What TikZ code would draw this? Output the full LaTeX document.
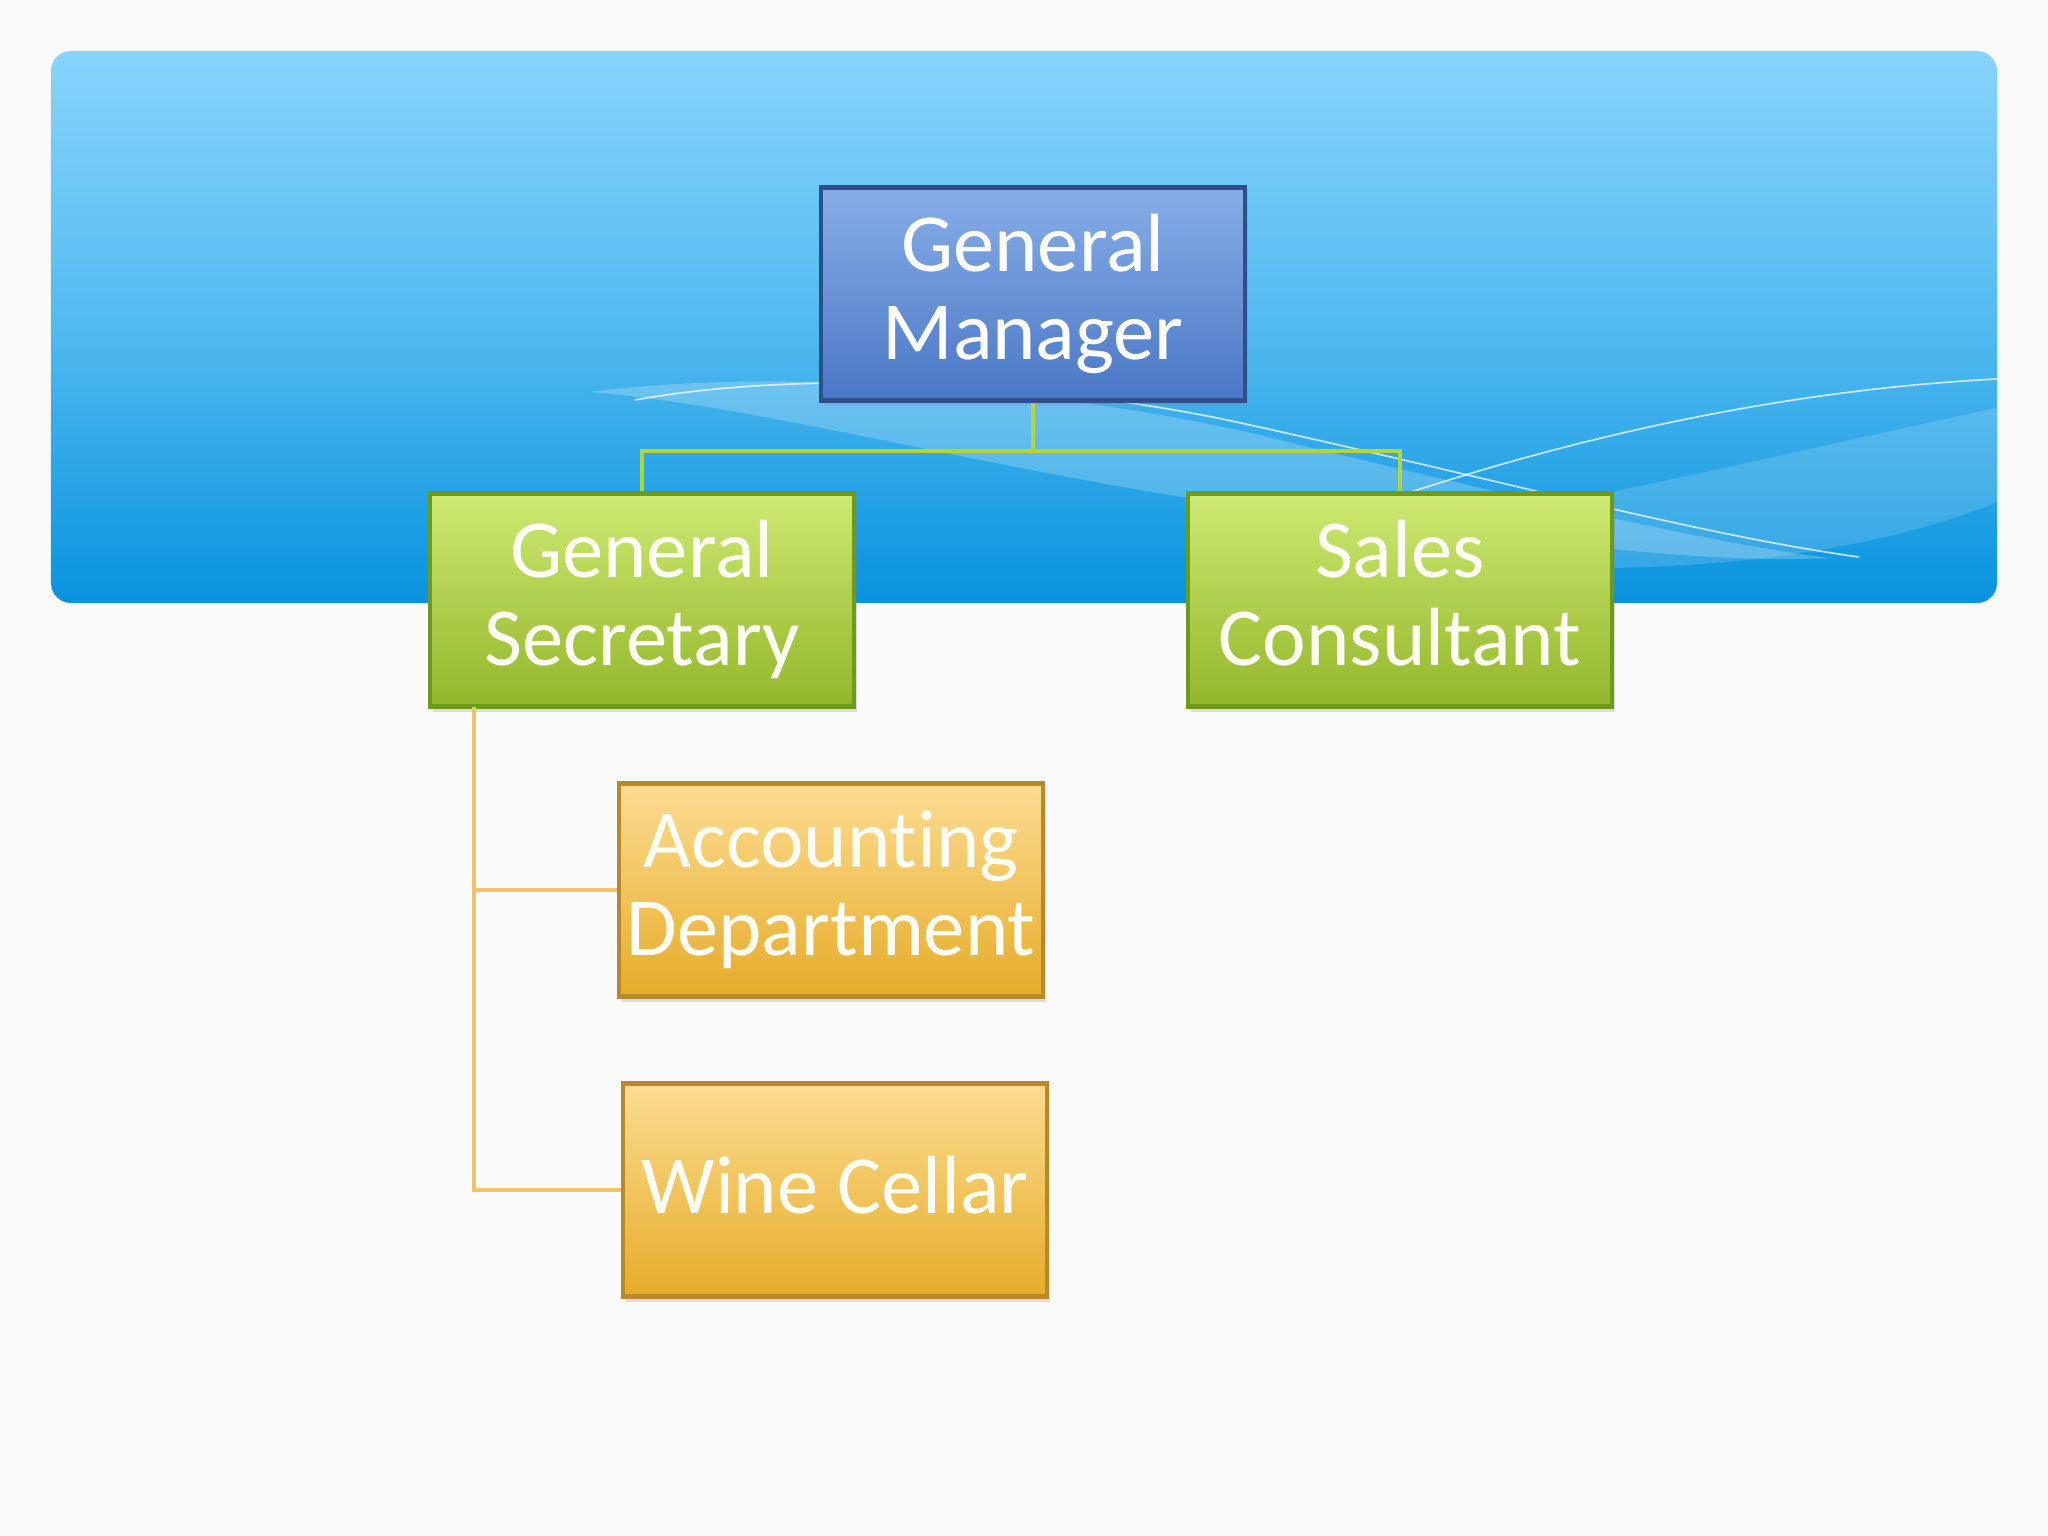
\documentclass[tikz,border=0pt]{standalone}
\usepackage{fontspec}
\setmainfont{Carlito}[Ligatures={NoCommon}]
\usetikzlibrary{shadows}

\definecolor{panelTop}{HTML}{88D4FD}
\definecolor{panelMid}{HTML}{52BAF0}
\definecolor{panelBot}{HTML}{0893DE}
\definecolor{gmTop}{HTML}{88AEE8}
\definecolor{gmBot}{HTML}{4A77C5}
\definecolor{gmLine}{HTML}{2E4F8C}
\definecolor{grTop}{HTML}{CDEA73}
\definecolor{grBot}{HTML}{94B62B}
\definecolor{grLine}{HTML}{6E9A1C}
\definecolor{orTop}{HTML}{FCDC92}
\definecolor{orBot}{HTML}{E6AC2A}
\definecolor{orLine}{HTML}{B8892A}
\definecolor{busCol}{HTML}{B6D43A}
\definecolor{subCol}{HTML}{F0C36A}

\begin{document}
\begin{tikzpicture}[thick,
    box node/.style={rectangle,draw,line width=1.2pt,text=white,align=center,
        minimum width=4.24cm,minimum height=2.13cm,inner sep=0pt,
        font=\fontsize{23.5}{25}\selectfont,
        execute at begin node=\rule{0pt}{17.5pt},
        execute at end node=\rule[-4pt]{0pt}{4pt},
        drop shadow={opacity=0.25,shadow xshift=0.03cm,shadow yshift=-0.05cm}},
    blue node/.style={box node,draw=gmLine,top color=gmTop,bottom color=gmBot},
    green node/.style={box node,draw=grLine,top color=grTop,bottom color=grBot,text=white!96!yellow},
    orange node/.style={box node,draw=orLine,top color=orTop,bottom color=orBot,text=white!96!yellow},
    top link/.style={draw=busCol,line width=1pt},
    sub link/.style={draw=subCol,line width=1pt},
    wave/.style={fill=white,draw=none},
    thin wave/.style={draw=white,line width=0.5pt,opacity=0.7}]
    \useasboundingbox (0,0) rectangle (20.48,-15.36);
    \fill[white!98!black] (0,0) rectangle (20.48,-15.36);

    % blue panel with waves
    \shade[rounded corners=0.2cm,top color=panelTop,bottom color=panelBot,middle color=panelMid]
        (0.51,-0.51) rectangle (19.97,-6.03);
    \fill[wave,opacity=0.22] (5.90,-3.92) .. controls (7.5,-3.70) and (10.5,-3.80) .. (13.0,-4.45)
        .. controls (15.5,-5.05) and (17.2,-5.45) .. (18.30,-5.58)
        .. controls (16.8,-5.65) and (15.0,-5.35) .. (12.0,-5.00)
        .. controls (9.5,-4.60) and (7.5,-4.05) .. cycle;
    \fill[wave,opacity=0.15] (19.97,-4.08) .. controls (18.2,-4.45) and (16.0,-5.00) .. (14.0,-5.30)
        -- (14.0,-5.60) .. controls (16.0,-5.78) and (18.3,-5.70) .. (19.97,-5.02) -- cycle;
    \draw[thin wave] (6.35,-4.00) .. controls (8.0,-3.70) and (10.5,-3.80) .. (12.5,-4.25)
        .. controls (15.0,-4.80) and (17.0,-5.35) .. (18.59,-5.57);
    \draw[thin wave] (13.30,-5.20) .. controls (15.5,-4.40) and (17.8,-3.90) .. (19.97,-3.79);

    % org chart
    \node[blue node] at (10.33,-2.94) (gm) {General\\Manager};
    \node[green node] at (6.42,-6.00) (gs) {General\\Secretary};
    \node[green node] at (14.00,-6.00) (sc) {Sales\\Consultant};
    \node[orange node] at (8.31,-8.90) (acc) {Accounting\\Department};
    \node[orange node] at (8.35,-11.90) (wc) {Wine Cellar};

    \coordinate (bus) at (10.33,-4.51);
    \coordinate (spine) at (4.74,-7.07);

    \path[top link] (gm.south) -- (gm.south |- bus);
    \path[top link] (gs.north) |- (sc.north |- bus) -- (sc.north);
    \path[sub link] (spine) |- (wc.west);
    \path[sub link] (spine |- acc.west) -- (acc.west);
\end{tikzpicture}
\end{document}
